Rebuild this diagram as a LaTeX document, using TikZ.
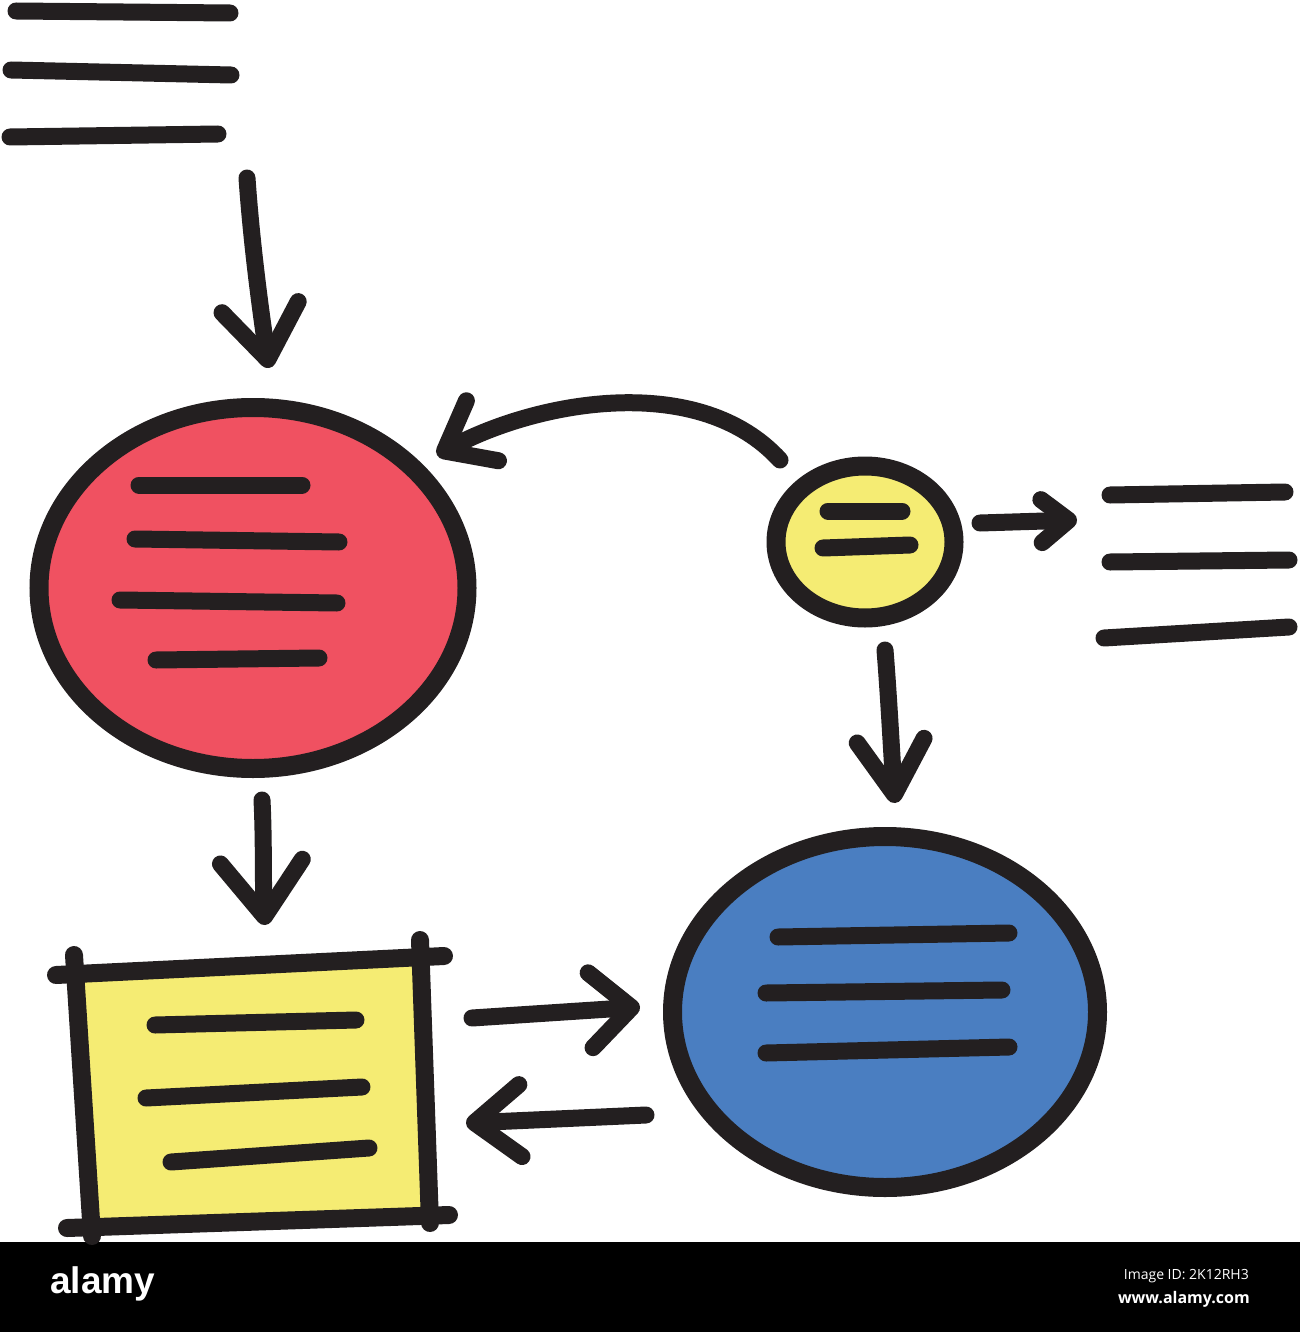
\documentclass[tikz,border=0pt]{standalone}
\usepackage{fontspec}
\newfontfamily\logofont{Liberation Sans}
\newfontfamily\idfont{Open Sans}
\usetikzlibrary{arrows.meta,shapes.geometric}
\definecolor{ink}{HTML}{231F20}
\definecolor{redfill}{HTML}{F05161}
\definecolor{bluefill}{HTML}{4A7EC1}
\definecolor{yelfill}{HTML}{F5EC73}
\begin{document}
\begin{tikzpicture}[x=1pt,y=-1pt,
  inkline/.style={draw=ink,line width=17pt,line cap=round,line join=round},
  blob/.style={ellipse,draw=ink,line width=19pt,inner sep=0pt},
  hd/.style 2 args={inkline,-{Straight Barb[length=#1,width=#2,round]}},
  bartext/.style={text=white,inner sep=0pt}
]
\useasboundingbox (0,0) rectangle (1300,1332);
\fill[black] (0,1242) rectangle (1300,1332);

% top-left text lines
\draw[inkline] (16,11) -- (230,13);
\draw[inkline] (11,70) -- (231,75);
\draw[inkline] (10,137) -- (218,134);

% main shapes
\node[blob,fill=redfill,minimum width=428pt,minimum height=361pt] (red) at (253,588) {};
\node[blob,fill=bluefill,minimum width=425pt,minimum height=351pt] (blue) at (885,1012) {};
\node[blob,fill=yelfill,minimum width=178pt,minimum height=152pt] (small) at (865,542) {};

% square
\coordinate (sq) at (255,1095);
\fill[yelfill] (75,973) -- (421,957) -- (430,1217) -- (90,1228) -- cycle;
\draw[inkline,line width=18pt] (56,975) -- (444,956);
\draw[inkline,line width=18pt] (74,955) -- (92,1236);
\draw[inkline,line width=18pt] (420,940) -- (430,1223);
\draw[inkline,line width=18pt] (67,1228) -- (449,1215);

% lines inside red
\draw[inkline] (139,485) -- (302,485);
\draw[inkline] (135,539) -- (339,542);
\draw[inkline] (120,600) -- (337,603);
\draw[inkline] (156,660) -- (319,658);
% lines inside small
\draw[inkline] (828,511) -- (902,511);
\draw[inkline] (823,548) -- (910,545);
% lines inside blue
\draw[inkline] (778,937) -- (1009,933);
\draw[inkline] (766,993) -- (1002,990);
\draw[inkline] (766,1053) -- (1009,1047);
% lines inside square
\draw[inkline] (155,1025) -- (356,1020);
\draw[inkline] (146,1098) -- (362,1087);
\draw[inkline] (171,1162) -- (369,1148);
% right text lines
\draw[inkline] (1110,495) -- (1285,492);
\draw[inkline] (1110,562) -- (1289,560);
\draw[inkline] (1104,638) -- (1289,627);

% connector end points
\coordinate (a1s) at (247,178);  \coordinate (a1e) at (269,368);
\coordinate (a2s) at (262,800);  \coordinate (a2e) at (265,925);
\coordinate (a3s) at (885,650);  \coordinate (a3e) at (895,803);
\coordinate (a4s) at (980,523);  \coordinate (a4e) at (1077,520);
\coordinate (a5s) at (780,460);  \coordinate (a5e) at (437,455);
\coordinate (a6s) at (472,1018); \coordinate (a6e) at (640,1007);
\coordinate (a7s) at (646,1115); \coordinate (a7e) at (466,1123);

\draw[hd={53pt}{77pt}] (a1s) .. controls (252,250) and (262,320) .. (a1e);
\draw[hd={55pt}{82pt}] (a2s) .. controls (264,840) and (263,890) .. (a2e);
\draw[hd={54pt}{67pt}] (a3s) .. controls (889,700) and (892,760) .. (a3e);
\draw[hd={27pt}{43pt}] (a4s) -- (a4e);
\draw[hd={43pt}{68pt}] (a5s) .. controls (700,372) and (540,400) .. (a5e);
\draw[hd={41pt}{75pt}] (a6s) -- (a6e);
\draw[hd={46pt}{72pt}] (a7s) -- (a7e);

% bottom bar texts
\node[bartext,anchor=base west,font=\logofont\bfseries\fontsize{37}{37}\selectfont] (logo) at (50,1293) {alamy};
\node[bartext,anchor=base east,font=\idfont\fontsize{14}{14}\selectfont] (imgid) at (1249,1279) {Image ID: 2K12RH3};
\node[bartext,anchor=base east,font=\idfont\bfseries\fontsize{16}{16}\selectfont] (url) at (1250,1303) {www.alamy.com};
\end{tikzpicture}
\end{document}
